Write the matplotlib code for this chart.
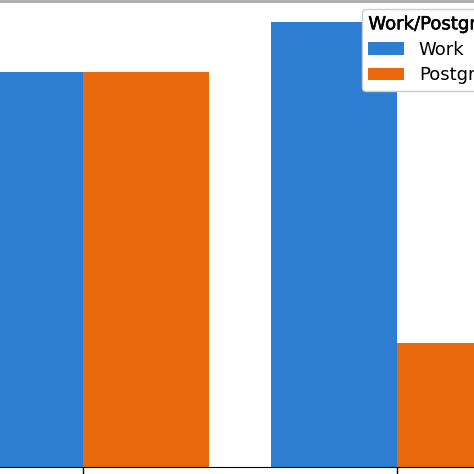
import matplotlib
matplotlib.use('Agg')
import matplotlib.pyplot as plt
import matplotlib.patheffects as pe
import numpy as np

# data
groups = ['Group A', 'Group B']
work = [79, 89]
postgrad = [79, 24.8]
series_labels = ['Work', 'Postgraduate']
legend_title = 'Work/Postgraduate'

blue = '#2d7dd2'
orange = '#e8690b'

fig = plt.figure(figsize=(4.74, 4.74), dpi=100)
# the reference is a crop of a bigger chart, so the axes run past the edges
ax = fig.add_axes([0, 7 / 474, 1, 1 - 8 / 474])

x = np.arange(len(groups))
w = 0.4
ax.bar(x - w / 2, work, w, color=blue, label=series_labels[0])
ax.bar(x + w / 2, postgrad, w, color=orange, label=series_labels[1])

ax.set_xlim(-83 / 314, (474 - 83) / 314)
ax.set_ylim(0, 93.2)
ax.set_xticks(x)
ax.set_xticklabels([])  # labels fall below the crop
ax.tick_params(axis='x', length=7, width=1)
ax.set_yticks([])
ax.spines['left'].set_visible(False)
ax.spines['right'].set_visible(False)
ax.spines['top'].set_color('#aaaaaa')
ax.spines['top'].set_linewidth(2)

leg = ax.legend(title=legend_title, loc='upper left',
                bbox_to_anchor=(362 / 474, 1 - 9 / 474), bbox_transform=fig.transFigure,
                fontsize=13, title_fontsize=13, labelspacing=0.42,
                framealpha=1, fancybox=True, borderaxespad=0, borderpad=0.35)
leg._legend_box.align = 'left'
leg.get_title().set_path_effects([pe.withStroke(linewidth=0.4, foreground='black')])

fig.savefig('out.png', dpi=100)
